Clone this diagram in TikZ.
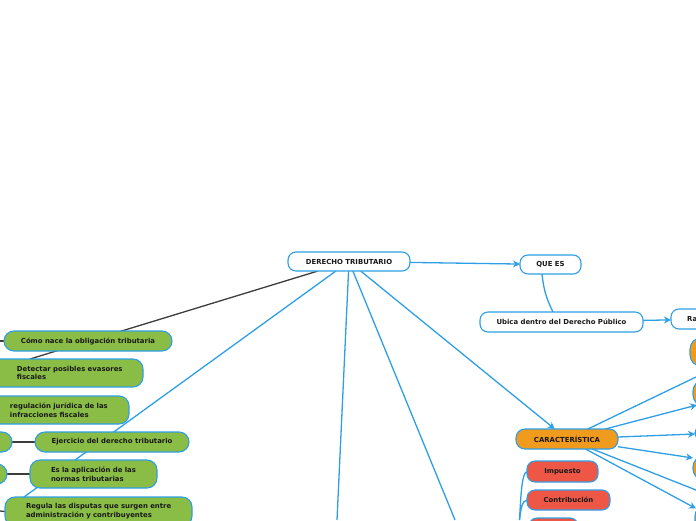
\documentclass[tikz,border=0pt]{standalone}
\usepackage{fontspec}
\setmainfont{DejaVu Sans}
\usetikzlibrary{arrows.meta,backgrounds}
\definecolor{lnblue}{HTML}{2E9FE6}
\definecolor{grn}{HTML}{8ABD45}
\definecolor{org}{HTML}{F09A1E}
\definecolor{rd}{HTML}{EE5746}
\definecolor{dk}{HTML}{3C3C3C}
\tikzset{
  txt/.style={font=\fontsize{6.9}{8.8}\selectfont\bfseries,text=black!90},
  mapbox/.style={txt,draw=lnblue,line width=1.1pt,inner sep=0pt,outer sep=0pt,align=center},
  whitebox/.style={mapbox,fill=white,rounded corners=8pt},
  greenbox/.style={mapbox,fill=grn,rounded corners=10pt},
  orangebox/.style={mapbox,fill=org,rounded corners=9pt},
  redbox/.style={mapbox,fill=rd,rounded corners=8pt},
  blob/.style={mapbox,fill=org,rounded corners=11pt},
  conn/.style={draw=lnblue,line width=1.3pt},
  arrowconn/.style={conn,-{Stealth[length=7pt,width=7pt]}},
  darkconn/.style={draw=dk,line width=1.3pt},
}
\newcommand{\bx}[7]{% style,name,x0,y0,x1,y1,text
  \pgfmathsetmacro{\boxw}{#5-(#3)}\pgfmathsetmacro{\boxh}{#6-(#4)}
  \node[#1,anchor=north west,minimum width=\boxw pt,minimum height=\boxh pt] (#2) at (#3,#4) {#7};}
\newcommand{\lbx}[8]{% style,name,x0,y0,x1,y1,text inset,text
  \pgfmathsetmacro{\boxw}{#5-(#3)}\pgfmathsetmacro{\boxh}{#6-(#4)}\pgfmathsetmacro{\tw}{#5-(#3)-(#7)}
  \node[#1,anchor=north west,minimum height=\boxh pt,text width=\boxw pt,align=left] (#2) at (#3,#4) {\hspace*{#7pt}\parbox[c]{\tw pt}{\raggedright #8}};}
\begin{document}
\begin{tikzpicture}[x=1pt,y=-1pt]
\useasboundingbox (0,0) rectangle (696,520);
\clip (0,0) rectangle (696,520);
\bx{whitebox}{root}{288}{252}{410}{271}{DERECHO TRIBUTARIO}
\bx{whitebox}{que}{520}{255}{581}{274}{QUE ES}
\bx{whitebox}{ubica}{480}{312}{643}{332}{Ubica dentro del Derecho Público}
\bx{whitebox}{rama}{671}{309}{760}{329}{}
\node[txt,anchor=west,inner sep=0pt] (ratext) at (687,319) {Ra};
\bx{orangebox}{char}{516}{429}{618}{449}{CARACTERÍSTICA}
\bx{redbox}{imp}{527}{461}{598}{482}{Impuesto}
\bx{redbox}{con}{527}{490}{610}{510}{Contribución}
\bx{redbox}{third}{529}{518}{578}{540}{}
\bx{blob}{ba}{690}{338}{730}{366}{}
\bx{blob}{bb}{693}{380}{730}{406}{}
\bx{blob}{bc}{695}{423}{730}{443}{}
\bx{blob}{bd}{693}{456}{730}{480}{}
\bx{blob}{be}{695}{505}{730}{535}{}
\bx{greenbox}{como}{4}{331}{172}{351}{Cómo nace la obligación tributaria}
\lbx{greenbox}{detectar}{-20}{359}{143}{387}{37}{Detectar posibles evasores\\fiscales}
\lbx{greenbox}{regul}{-20}{396}{129}{424}{30}{regulación jurídica de las\\infracciones fiscales}
\bx{greenbox}{leftA}{-30}{432}{12}{452}{}
\bx{greenbox}{ejer}{35}{432}{189}{452}{Ejercicio del derecho tributario}
\bx{greenbox}{leftB}{-30}{464}{7}{484}{}
\lbx{greenbox}{esla}{30}{460}{157}{488}{21}{Es la aplicación de las\\normas tributarias}
\lbx{greenbox}{regula}{5}{497}{192}{526}{21}{Regula las disputas que surgen entre\\administración y contribuyentes}
\coordinate (lstubA) at (0,341);
\coordinate (lstubB) at (0,511);
\coordinate (darkend) at (30,359);
\coordinate (blueend) at (24,497);
\coordinate (downA) at (337,520);
\coordinate (downB) at (455,520);
\coordinate (curveroot) at (519.5,520);
\coordinate (t1) at (696,377);
\coordinate (t2) at (697,405);
\coordinate (t3) at (695,434);
\coordinate (t4) at (693,458);
\coordinate (t5) at (696,490);
\coordinate (t6) at (696,508.5);
\begin{scope}[on background layer]
\clip (0,0) rectangle (696,520);
\draw[darkconn] (root) -- (darkend);
\draw[darkconn] (lstubA) -- (como);
\draw[darkconn] (leftA) -- (ejer);
\draw[darkconn] (leftB.east) -- (esla.west |- leftB.east);
\draw[darkconn] (lstubB) -- (regula.west);
\draw[conn] (root) -- (blueend);
\draw[conn] (root) -- (downA);
\draw[conn] (root) -- (downB);
\draw[arrowconn] (root) -- (char);
\draw[arrowconn] (root) -- (que);
\draw[conn] ([xshift=-8.5pt]que.south) to[bend right=10] ([xshift=-8.5pt]ubica.north);
\draw[arrowconn] (ubica) -- (rama);
\draw[conn] (char) -- (t1);
\draw[arrowconn] (char) -- (t2);
\draw[arrowconn] (char) -- (t3);
\draw[arrowconn] (char) -- (t4);
\draw[conn] (char) -- (t5);
\draw[arrowconn] (char) -- (t6);
\draw[conn] (curveroot) .. controls (521,492) and (522,473) .. (imp.west);
\draw[conn] (curveroot) .. controls (521,508) and (522,501) .. (con.west);
\end{scope}
\end{tikzpicture}
\end{document}
